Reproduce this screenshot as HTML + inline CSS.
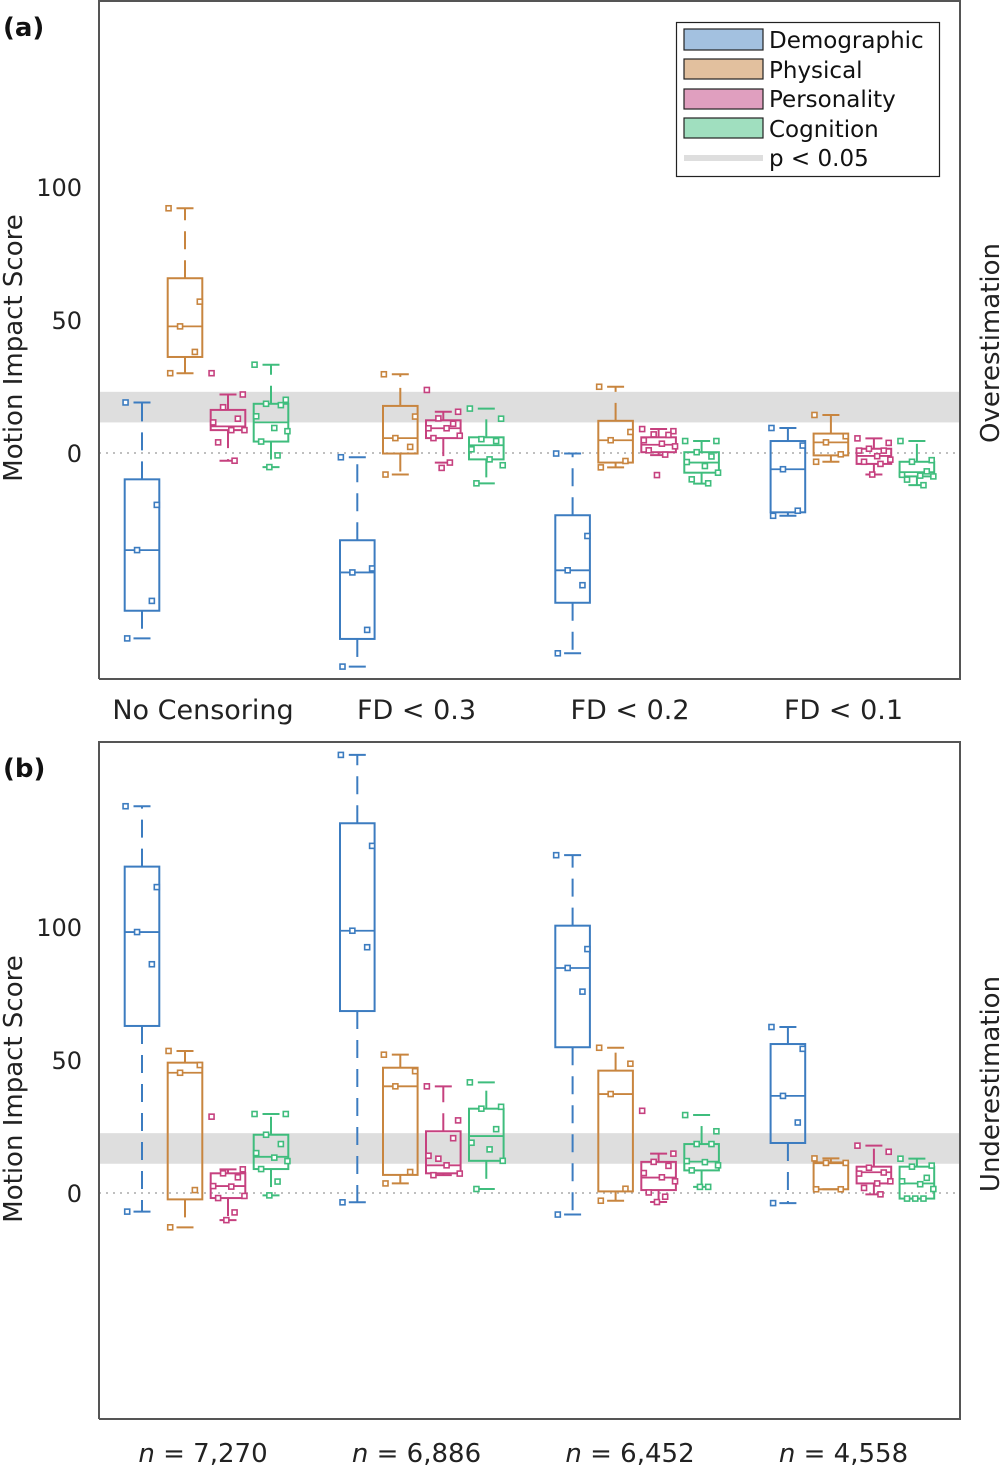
<!DOCTYPE html>
<html><head><meta charset="utf-8"><style>
html,body{margin:0;padding:0;background:#fff;}
svg{display:block;font-family:"DejaVu Sans","Liberation Sans",sans-serif;}
</style></head><body>
<svg id="chart" width="1000" height="1466" viewBox="0 0 1000 1466" xmlns="http://www.w3.org/2000/svg">
<g id="static">
  <text x="3" y="36" font-size="26" font-weight="bold" fill="#111">(a)</text>
  <text x="3" y="777" font-size="26" font-weight="bold" fill="#111">(b)</text>
  <text transform="translate(22,348) rotate(-90)" text-anchor="middle" font-size="26" fill="#222">Motion Impact Score</text>
  <text transform="translate(22,1089) rotate(-90)" text-anchor="middle" font-size="26" fill="#222">Motion Impact Score</text>
  <text transform="translate(999,343) rotate(-90)" text-anchor="middle" font-size="26" fill="#222">Overestimation</text>
  <text transform="translate(999,1084) rotate(-90)" text-anchor="middle" font-size="26" fill="#222">Underestimation</text>
</g>
<g id="marks"></g>
<g id="legend">
  <rect x="676.5" y="22.5" width="263" height="154" fill="#fff" stroke="#222" stroke-width="1.2"/>
  <rect x="684" y="29" width="79" height="21" fill="#a3c1e0" stroke="#222" stroke-width="1.2"/>
  <text x="769" y="48" font-size="23" fill="#111">Demographic</text>
  <rect x="684" y="59" width="79" height="20" fill="#e2c09e" stroke="#222" stroke-width="1.2"/>
  <text x="769" y="78" font-size="23" fill="#111">Physical</text>
  <rect x="684" y="89" width="79" height="20" fill="#e09fbf" stroke="#222" stroke-width="1.2"/>
  <text x="769" y="107" font-size="23" fill="#111">Personality</text>
  <rect x="684" y="118" width="79" height="20" fill="#a0dfbf" stroke="#222" stroke-width="1.2"/>
  <text x="769" y="137" font-size="23" fill="#111">Cognition</text>
  <line x1="684" x2="763" y1="158" y2="158" stroke="#dedede" stroke-width="6"/>
  <text x="769" y="166" font-size="23" fill="#111">p &lt; 0.05</text>
</g>
</svg>
<script>
const categories = ["No Censoring", "FD < 0.3", "FD < 0.2", "FD < 0.1"];
const sampleSizes = ["7,270", "6,886", "6,452", "4,558"];
const seriesNames = ["Demographic", "Physical", "Personality", "Cognition"];
const yTicks = [0, 50, 100];
const sigBandA = [11.5, 23];
const sigBandB = [11, 22.5];

// box stats: [lowWhisker, q1, median, q3, highWhisker] per group
const aDemographicBox = [[-69.7,-59.3,-36.5,-9.9,19],[-80.3,-69.9,-44.9,-32.8,-1.6],[-75.3,-56.3,-44.1,-23.4,-0.2],[-23.6,-22.3,-6.1,4.5,9.4]];
const aPhysicalBox = [[30,36.1,47.6,65.7,92],[-8.1,-0.2,5.6,17.7,29.6],[-5.4,-3.6,4.8,12.1,24.9],[-3.3,-0.9,4,7.3,14.3]];
const aPersonalityBox = [[-2.9,8.6,10,16.2,22],[-3.6,5.6,9.3,12.3,15.5],[-0.8,0.3,3.1,5.9,9],[-8.1,-4.1,-1.1,1.6,5.5]];
const aCognitionBox = [[-5.3,4.3,11.5,18.5,33.2],[-11.4,-2.4,2.9,5.9,16.7],[-11.5,-7.4,-3.6,0.3,4.5],[-12.1,-8.8,-7.2,-3.3,4.5]];

const aDemographicPts = [[19,-19.5,-36.5,-55.6,-69.7],[-1.6,-43.4,-44.9,-66.5,-80.3],[-0.2,-31.2,-44.1,-49.7,-75.3],[9.4,2.8,-6.1,-21.7,-23.6]];
const aPhysicalPts = [[92,56.9,47.6,38,30],[29.6,13.7,5.6,2.3,-8.1],[24.9,7.9,4.8,-3,-5.4],[14.3,6.3,4,-0.5,-3.3]];
const aPersonalityPts = [[30,22,17.2,12.9,11.5,8.6,8.6,4,-2.9],[23.7,15.5,13,11,9.3,9.3,6.5,5.6,-3.6,-5.6],[9,8.2,7,6.8,4.8,3.5,2.5,1,-0.6,-8.3],[5.5,3.8,1.6,0.9,0.9,-1.2,-2.5,-3.3,-4.1,-8.1]];
const aCognitionPts = [[33.2,20,18.5,18,13.8,9.4,8.2,4.3,-0.9,-5.3],[16.7,12.9,5.2,4.5,1.4,-2.4,-4.6,-11.4],[4.5,4.5,0.3,-1.3,-3.4,-4.9,-7.4,-9.9,-11.4],[4.5,-2.7,-3.3,-6.9,-8.2,-8.5,-8.8,-10,-12.1]];

const bDemographicBox = [[-7,62.8,98.1,122.7,145.4],[-3.5,68.4,98.6,139,164.7],[-8.1,54.8,84.6,100.5,127],[-3.8,18.8,36.5,56,62.4]];
const bPhysicalBox = [[-12.9,-2.4,45.2,49,53.4],[3.6,6.8,40.1,47.1,52],[-2.9,0.6,37.2,46,54.6],[1.4,1.4,11.2,11.5,13]];
const bPersonalityBox = [[-10.2,-1.9,2.6,7.4,8.9],[6.7,7.4,10.4,23.2,40.1],[-3.4,1.1,5.8,11.7,14.8],[-0.5,3.6,7.8,9.9,17.8]];
const bCognitionBox = [[-0.9,9,13.6,21.9,29.7],[1.5,12.1,21.4,31.7,41.6],[2.3,8.5,11.8,18.4,29.3],[-2.1,-2.1,3.6,9.9,12.9]];

const bDemographicPts = [[145.4,115,98.1,86,-7],[164.7,130.5,98.6,92.4,-3.5],[127,91.7,84.6,75.7,-8.1],[62.4,54.2,36.5,26.5,-3.8]];
const bPhysicalPts = [[53.4,48.1,45.2,1.1,-12.9],[52,45.8,40.1,7.9,3.6],[54.6,48.6,37.2,1.6,-2.9],[13,11.3,11.3,1.4,1.4]];
const bPersonalityPts = [[28.7,8.9,7.4,5.9,2.6,2.4,-1.1,-1.9,-7.3,-10.2],[40.1,27.3,12.9,20.6,14,10.4,7.3,6.7],[30.9,14.8,11.7,10.2,7.5,5.9,4.4,0.2,-1.4,-3.4],[17.8,15.5,9.5,7.7,7.3,3.6,4.4,1.9,-0.5]];
const bCognitionPts = [[29.7,29.7,21.9,18.4,15,13.3,12,9,4.3,-0.9],[41.6,32.4,31.7,24,18.9,16.4,12.1,1.5],[29.3,23.2,18.4,18.4,12,11.6,10.4,8.5,2.3,2.3],[12.9,10.3,9.9,5.7,4.4,3.3,1.5,-2.1,-2.1,-2.1]];

const colors = ["#3c7cc0", "#c8853f", "#c6417f", "#3fbd7d"];
const jitterFrac = [-0.5,0.45,-0.15,0.3,-0.45,0.1,0.5,-0.3,0.2,-0.05];

const NS = "http://www.w3.org/2000/svg";
const marks = document.getElementById("marks");
function mk(tag, attrs, parent) {
  const e = document.createElementNS(NS, tag);
  for (const k in attrs) e.setAttribute(k, attrs[k]);
  (parent || marks).appendChild(e);
  return e;
}
const X0 = 99, X1 = 960, PX = 2.66;
function xCenter(g, k) { return 142 + 215.3 * g + 43 * k; }
function labelX(g) { return 203 + 213.5 * g; }
function makeY(zeroY) { return v => zeroY - v * PX; }

function drawPanel(p) {
  const y = makeY(p.zero);
  const g0 = mk("g", {});
  
  
  const band = mk("rect", {x: X0, y: y(p.band[1]), width: X1 - X0, height: y(p.band[0]) - y(p.band[1]), fill: "#dedede"}, g0);
  
  
  const zl = mk("line", {x1: X0, x2: X1, y1: y(0), y2: y(0), stroke: "#aaa", "stroke-width": 1.6, "stroke-dasharray": "2 5"}, g0);
  
  
  yTicks.forEach(t => {
    const tx = mk("text", {x: 82, y: y(t) + 9, "text-anchor": "end", "font-size": 24, fill: "#222"}, g0);
    tx.textContent = t;
    
    
  });
  p.series.forEach((s, k) => {
    const col = colors[k];
    s.box.forEach((b, g) => {
      const cx = xCenter(g, k), hw = 17.3;
      const grp = mk("g", {}, g0);
      
      
      const [lo, q1, md, q3, hi] = b;
      mk("line", {x1: cx, x2: cx, y1: y(q3), y2: y(hi), stroke: col, "stroke-width": 2, "stroke-dasharray": "18 11"}, grp);
      mk("line", {x1: cx, x2: cx, y1: y(q1), y2: y(lo), stroke: col, "stroke-width": 2, "stroke-dasharray": "18 11"}, grp);
      mk("line", {x1: cx - 8.5, x2: cx + 8.5, y1: y(hi), y2: y(hi), stroke: col, "stroke-width": 2}, grp);
      mk("line", {x1: cx - 8.5, x2: cx + 8.5, y1: y(lo), y2: y(lo), stroke: col, "stroke-width": 2}, grp);
      mk("rect", {x: cx - hw, y: y(q3), width: 2 * hw, height: Math.max(0.5, y(q1) - y(q3)), fill: "none", stroke: col, "stroke-width": 2}, grp);
      mk("line", {x1: cx - hw, x2: cx + hw, y1: y(md), y2: y(md), stroke: col, "stroke-width": 1.8}, grp);
      s.pts[g].forEach((v, i) => {
        const px = cx + jitterFrac[i % jitterFrac.length] * 2 * hw * 0.95;
        const r = mk("rect", {x: px - 2.5, y: y(v) - 2.5, width: 5, height: 5, fill: "#fff", stroke: col, "stroke-width": 1.6}, grp);
        
        
      });
    });
  });
  const fr = mk("path", {d: p.frame, fill: "none", stroke: "#555", "stroke-width": 2}, g0);
  
  
}

drawPanel({id: "panel-a", zero: 453, band: sigBandA, frame: "M99,679 V1 H960 V679 H99",
  series: [{box: aDemographicBox, pts: aDemographicPts}, {box: aPhysicalBox, pts: aPhysicalPts}, {box: aPersonalityBox, pts: aPersonalityPts}, {box: aCognitionBox, pts: aCognitionPts}]});
drawPanel({id: "panel-b", zero: 1193, band: sigBandB, frame: "M99,1419 V742 H960 V1419 H99",
  series: [{box: bDemographicBox, pts: bDemographicPts}, {box: bPhysicalBox, pts: bPhysicalPts}, {box: bPersonalityBox, pts: bPersonalityPts}, {box: bCognitionBox, pts: bCognitionPts}]});

categories.forEach((c, g) => {
  const cx = labelX(g);
  const t = mk("text", {x: cx, y: 719, "text-anchor": "middle", "font-size": 27, fill: "#222"});
  t.textContent = c;
  
  
  const n = mk("text", {x: cx, y: 1462, "text-anchor": "middle", "font-size": 26, fill: "#222"});
  const ni = mk("tspan", {"font-style": "italic"}, n);
  ni.textContent = "n";
  const nv = mk("tspan", {}, n);
  nv.textContent = " = " + sampleSizes[g];
  
  
});
</script>
</body></html>
